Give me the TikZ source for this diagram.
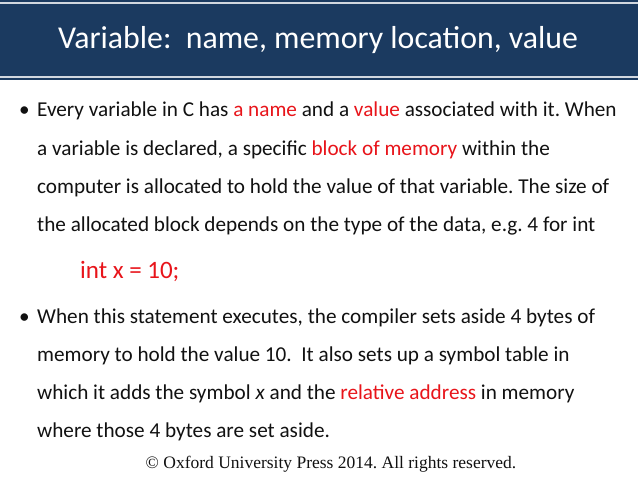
\documentclass[tikz,border=0pt]{standalone}
\usepackage{fontspec}
\setmainfont{Carlito}
\newfontfamily\footfont{Liberation Serif}
\definecolor{barblue}{HTML}{1B3A60}
\definecolor{hl}{HTML}{E8141A}
\definecolor{txt}{HTML}{111111}
\frenchspacing
\begin{document}
\begin{tikzpicture}[x=1pt,y=-1pt,
  line/.style={anchor=base west,inner sep=0pt,font=\fontsize{21.2}{24}\selectfont,text=txt},
  bul/.style={anchor=base west,inner sep=0pt,font=\fontsize{21.2}{24}\selectfont,text=txt}]
\useasboundingbox (0,0) rectangle (638,478);
\fill[white] (0,0) rectangle (638,478);
\fill[barblue] (0,0) rectangle (638,80);
\draw[white!80!barblue,line width=1.2pt] (0,3) -- (638,3) (0,77) -- (638,77);
\node[text=white,font=\fontsize{31.8}{36}\selectfont] (title) at (318,40) {Variable:\ \ name, memory location, value};
\node[bul] (b1) at (19,117) {•};
\node[line] (l1) at (37,117) {Every variable in C has \textcolor{hl}{a name} and a \textcolor{hl}{value} associated with it. When};
\node[line] (l2) at (37,156) {a variable is declared, a specific \textcolor{hl}{block of memory} within the};
\node[line] (l3) at (37,194) {computer is allocated to hold the value of that variable. The size of};
\node[line] (l4) at (37,232) {the allocated block depends on the type of the data, e.g. 4 for int};
\node[anchor=base west,inner sep=0pt,text=hl,font=\fontsize{25}{28}\selectfont] (code) at (80,279) {int x = 10;};
\node[bul] (b2) at (19,324) {•};
\node[line] (m1) at (37,324) {When this statement executes, the compiler sets aside 4 bytes of};
\node[line] (m2) at (37,362) {memory to hold the value 10.\ \ It also sets up a symbol table in};
\node[line] (m3) at (37,400) {which it adds the symbol \textit{x} and the \textcolor{hl}{relative address} in memory};
\node[line] (m4) at (37,438) {where those 4 bytes are set aside.};
\node[anchor=base,inner sep=0pt,text=txt,font=\footfont\fontsize{17.5}{20}\selectfont] (foot) at (331,469) {© Oxford University Press 2014. All rights reserved.};
\end{tikzpicture}
\end{document}
